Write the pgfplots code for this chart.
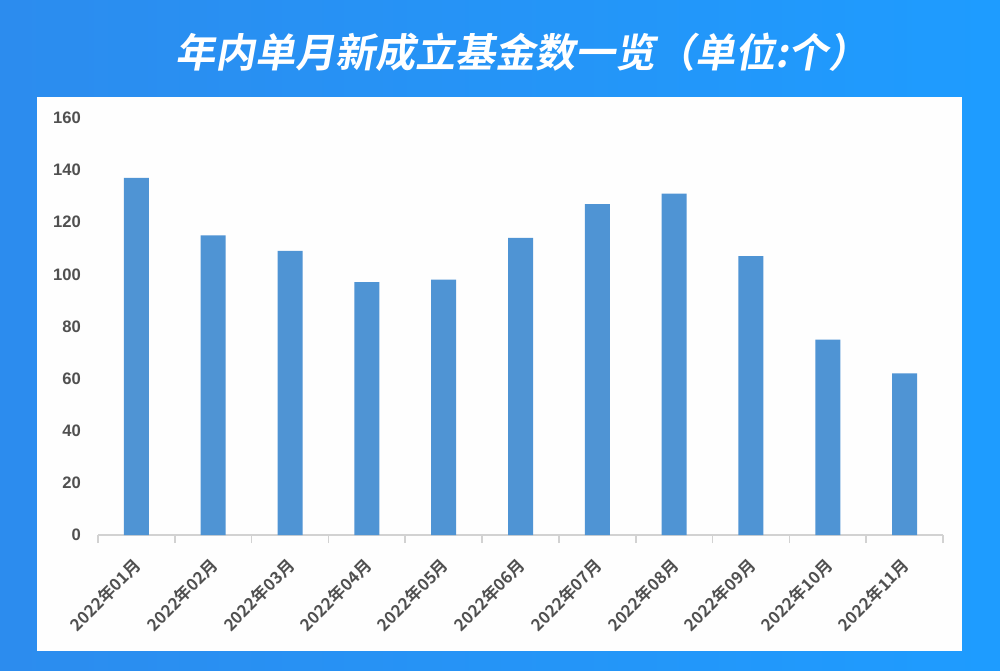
\documentclass[border=0pt]{standalone}
\usepackage{fontspec}
\usepackage{pgfplots}
\pgfplotsset{compat=1.18}
\setmainfont{Liberation Sans}
\newfontfamily\cjk{Noto Sans CJK SC}[BoldFont={Noto Sans CJK SC Bold}]
\newfontfamily\titlefont{Noto Sans CJK SC Bold}[FakeSlant=0.18]
\definecolor{bgleft}{RGB}{44,140,238}
\definecolor{bgright}{RGB}{30,156,255}
\definecolor{barblue}{RGB}{79,148,212}
\definecolor{ticktext}{RGB}{80,80,80}
\definecolor{axisgray}{RGB}{210,210,210}
\begin{document}
\begin{tikzpicture}
\shade[left color=bgleft, right color=bgright] (0,0) rectangle (500pt,335pt);
\fill[white!99!gray] (18.5pt,9.5pt) rectangle (481pt,286.5pt);
\node[text=white, font=\titlefont\fontsize{20}{23}\selectfont] at (261pt,309pt) {年内单月新成立基金数一览（单位:个）};
\begin{axis}[
  at={(49pt,67.5pt)}, anchor=south west,
  width=422.5pt, height=208.5pt, scale only axis,
  xmin=-0.5, xmax=10.5, ymin=0, ymax=160,
  axis x line*=bottom, axis y line*=left,
  y axis line style={draw=none},
  x axis line style={draw=axisgray, line width=0.8pt},
  xtick={0,...,10},
  xticklabels={2022年01月,2022年02月,2022年03月,2022年04月,2022年05月,2022年06月,2022年07月,2022年08月,2022年09月,2022年10月,2022年11月},
  minor xtick={-0.5,0.5,...,10.5},
  major x tick style={draw=none},
  minor x tick style={draw=axisgray, line width=0.8pt},
  minor tick length=4pt,
  tick align=outside,
  ytick={0,20,...,160},
  ytick style={draw=none},
  major tick length=0pt,
  tick label style={font=\bfseries\fontsize{8.3}{9}\selectfont, text=ticktext},
  /pgf/number format/assume math mode=true,
  y tick label style={xshift=-5pt},
  x tick label style={font=\cjk\bfseries\fontsize{8.3}{9}\selectfont, yshift=-6pt, xshift=-2pt, rotate=45, anchor=north east},
  ybar, bar width=12.5pt,
  clip=false,
]
\addplot[fill=barblue, draw=none] coordinates {
(0,137) (1,115) (2,109) (3,97) (4,98) (5,114) (6,127) (7,131) (8,107) (9,75) (10,62)
};
\end{axis}
\end{tikzpicture}
\end{document}
